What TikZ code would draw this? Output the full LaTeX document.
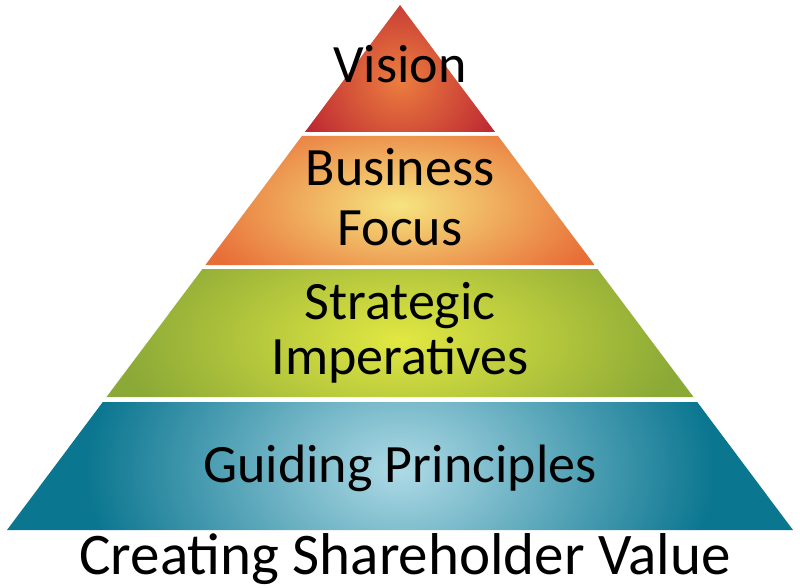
\documentclass[tikz,border=0pt]{standalone}
\usepackage{fontspec}
\setmainfont{Carlito}
\usepackage{tikz}
\usetikzlibrary{positioning}

\definecolor{visionIn}{HTML}{EC7E3F}
\definecolor{visionOut}{HTML}{B3152F}
\definecolor{focusIn}{HTML}{F6E47E}
\definecolor{focusOut}{HTML}{E86E38}
\definecolor{stratIn}{HTML}{E2E842}
\definecolor{stratOut}{HTML}{8BA937}
\definecolor{guideIn}{HTML}{AEDAE6}
\definecolor{guideOut}{HTML}{0B7690}

\pgfdeclareradialshading{visionShade}{\pgfpoint{0bp}{0bp}}{color(0bp)=(visionIn); color(34bp)=(visionOut); color(50bp)=(visionOut)}
\pgfdeclareradialshading{focusShade}{\pgfpoint{0bp}{0bp}}{color(0bp)=(focusIn); color(27bp)=(focusOut); color(50bp)=(focusOut)}
\pgfdeclareradialshading{stratShade}{\pgfpoint{0bp}{0bp}}{color(0bp)=(stratIn); color(24bp)=(stratOut); color(50bp)=(stratOut)}
\pgfdeclareradialshading{guideShade}{\pgfpoint{0bp}{0bp}}{color(0bp)=(guideIn); color(20bp)=(guideOut); color(50bp)=(guideOut)}

\tikzstyle{layer}=[draw=none]
\tikzstyle{label}=[align=center,text=black,font=\fontsize{54}{60}\selectfont]
\tikzstyle{caption}=[text=black,font=\fontsize{59}{64}\selectfont]

\begin{document}
\begin{tikzpicture}[x=1pt,y=-1pt]

	\useasboundingbox[fill=white] (0,0) rectangle (800,588);

	% % % layers
	\begin{scope}
	\clip (400,5) -- (495.1,132) -- (304.9,132) -- cycle;
	\path[layer,shading=visionShade] (304.9,-10) rectangle (495.1,170);
	\end{scope}

	\begin{scope}
	\clip (301.9,136) -- (498.1,136) -- (594.6,265) -- (205.4,265) -- cycle;
	\path[layer,shading=focusShade] (205.4,110) rectangle (594.6,300);
	\end{scope}

	\begin{scope}
	\clip (202.4,269) -- (597.6,269) -- (693.5,397) -- (106.5,397) -- cycle;
	\path[layer,shading=stratShade] (106.5,200) rectangle (693.5,480);
	\end{scope}

	\begin{scope}
	\clip (102.8,402) -- (697.2,402) -- (793,530) -- (7,530) -- cycle;
	\path[layer,shading=guideShade] (7,200) rectangle (793,740);
	\end{scope}

	% % % texts
	\node[label,anchor=base] (vis) at (400,83) {Vision};
	\node[label,anchor=base] (bus) at (400,245) {Business\\Focus};
	\node[label,anchor=base,font=\fontsize{54}{55}\selectfont] (str) at (400,374) {Strategic\\Imperatives};
	\node[label,anchor=base] (gui) at (400,482) {Guiding Principles};

	\node[caption,anchor=base] (csv) at (405,574) {Creating Shareholder Value};

\end{tikzpicture}
\end{document}
